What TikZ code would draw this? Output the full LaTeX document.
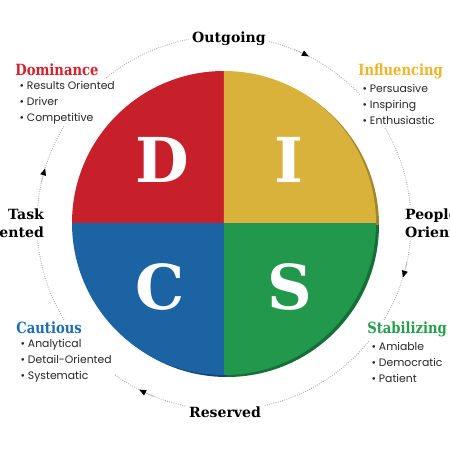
\documentclass[tikz,border=0pt]{standalone}
\usepackage{fontspec}
\setmainfont{Poppins}
\newfontfamily\slab{DejaVu Serif}
\newfontfamily\slabhead[FakeStretch=0.85]{DejaVu Serif}
\usetikzlibrary{positioning, arrows.meta}

\definecolor{dred}{HTML}{C8202A}
\definecolor{dyellow}{HTML}{D8B23A}
\definecolor{dgreen}{HTML}{22984C}
\definecolor{dblue}{HTML}{1B63A3}
\definecolor{dredrim}{HTML}{8E1820}
\definecolor{dyellowrim}{HTML}{A4862A}
\definecolor{dgreenrim}{HTML}{166F38}
\definecolor{dbluerim}{HTML}{124679}
\definecolor{hred}{HTML}{D7202C}
\definecolor{hyellow}{HTML}{F2B527}
\definecolor{hgreen}{HTML}{25A04A}
\definecolor{hblue}{HTML}{1C6DB5}

\begin{document}
\begin{tikzpicture}[
        x=0.025cm, y=0.025cm,
        letter/.style={text=white, font=\slab\bfseries\fontsize{44}{44}\selectfont},
        head/.style={font=\slabhead\bfseries\fontsize{11}{13}\selectfont, fill=white, inner sep=1.5pt, anchor=base west},
        list/.style={font=\fontsize{7.7}{11.4}\selectfont, text=black!85, align=left, fill=white, inner sep=1.5pt},
        axis/.style={font=\slab\bfseries\fontsize{10}{13}\selectfont, fill=white, inner sep=2pt},
        track/.style={draw=gray!60, line width=0.7pt, dash pattern=on 0.6pt off 1pt},
        tip/.style={track, -{Triangle[length=5pt, width=4pt, black]}}
    ]
        \useasboundingbox (0,0) rectangle (450,450);
        \clip (0,0) rectangle (450,450);
        \coordinate (ctr) at (224,227);
        \coordinate (rim) at (227,225);

        % Track
        \draw[track] (ctr) circle[radius=187];
        \foreach \a in {63, 163, -17, 243}
            \draw[tip] ([shift={(ctr)}] \a+5:187) arc[start angle=\a+5, end angle=\a, radius=187];

        % Styles
        \node[head, text=hred] (dom) at (13,374) {Dominance};
        \node[list, below=0pt of dom.south west, anchor=north west, xshift=3] (domlist)
            {\textbullet\ Results Oriented\\ \textbullet\ Driver\\ \textbullet\ Competitive};
        \node[head, text=hyellow] (inf) at (356,374) {Influencing};
        \node[list, below=0pt of inf.south west, anchor=north west, xshift=3] (inflist)
            {\textbullet\ Persuasive\\ \textbullet\ Inspiring\\ \textbullet\ Enthusiastic};
        \node[head, text=hblue] (cau) at (14,116) {Cautious};
        \node[list, below=0pt of cau.south west, anchor=north west, xshift=3] (caulist)
            {\textbullet\ Analytical\\ \textbullet\ Detail-Oriented\\ \textbullet\ Systematic};
        \node[head, text=hgreen] (sta) at (365,116) {Stabilizing};
        \node[list, below=0pt of sta.south west, anchor=north west, xshift=3] (stalist)
            {\textbullet\ Amiable\\ \textbullet\ Democratic\\ \textbullet\ Patient};

        % Axes
        \node[axis] (out) at (229,411) {Outgoing};
        \node[axis] (res) at (225,38) {Reserved};
        \node[axis, align=right, anchor=east] (task) at (47,227) {Task\\Oriented};
        \node[axis, align=left, anchor=west] (people) at (402,227) {People\\Oriented};

        % Rim
        \fill[dredrim] (rim) -- ++(180:152) arc[start angle=180, end angle=90, radius=152] -- cycle;
        \fill[dyellowrim] (rim) -- ++(90:152) arc[start angle=90, end angle=0, radius=152] -- cycle;
        \fill[dgreenrim] (rim) -- ++(0:152) arc[start angle=0, end angle=-90, radius=152] -- cycle;
        \fill[dbluerim] (rim) -- ++(-90:152) arc[start angle=-90, end angle=-180, radius=152] -- cycle;

        % Quadrants
        \fill[dred] (ctr) -- ++(180:152) arc[start angle=180, end angle=90, radius=152] -- cycle;
        \fill[dyellow] (ctr) -- ++(90:152) arc[start angle=90, end angle=0, radius=152] -- cycle;
        \fill[dgreen] (ctr) -- ++(0:152) arc[start angle=0, end angle=-90, radius=152] -- cycle;
        \fill[dblue] (ctr) -- ++(-90:152) arc[start angle=-90, end angle=-180, radius=152] -- cycle;

        % Letters
        \node[letter] (d) at (162,290) {D};
        \node[letter] (i) at (289,290) {I};
        \node[letter] (c) at (160,163) {C};
        \node[letter] (s) at (290,163) {S};
    \end{tikzpicture}
\end{document}
